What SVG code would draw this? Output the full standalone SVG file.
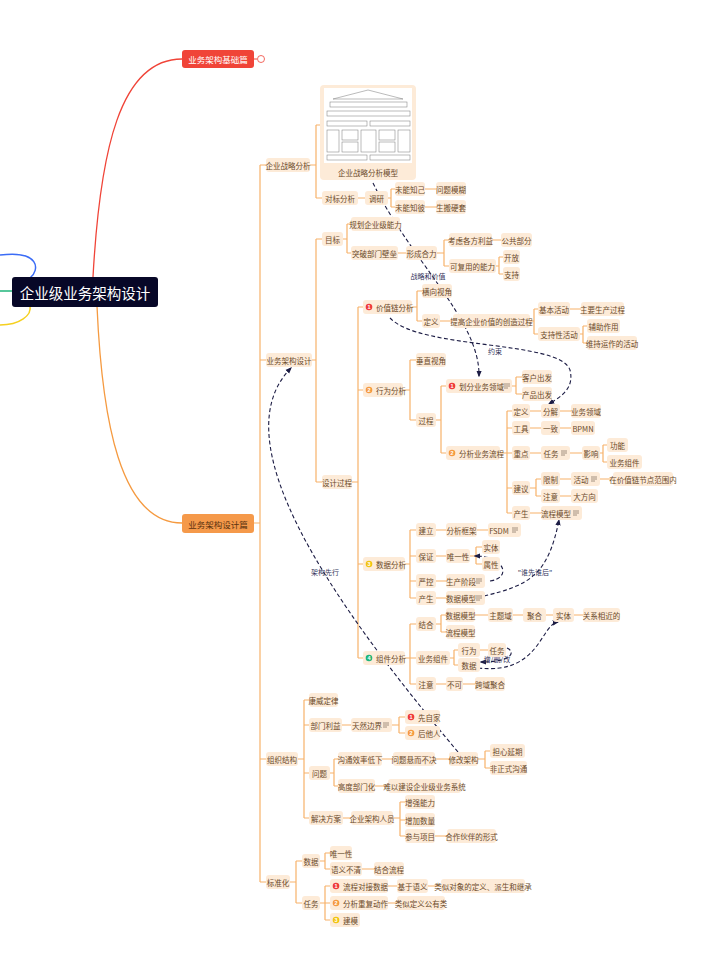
<svg xmlns="http://www.w3.org/2000/svg" width="720" height="971" viewBox="0 0 720 971">
<style>
.n rect{fill:#fdebd8;rx:3}
.n text{font-family:"Noto Sans CJK SC","Liberation Sans",sans-serif;font-size:7.5px;fill:#6b4a2a;text-anchor:middle;dominant-baseline:central}
.n text.s{text-anchor:start}
.n text.num{font-family:"Liberation Sans",sans-serif;font-size:5.5px;fill:#fff;text-anchor:middle;font-weight:bold}
.c{fill:none;stroke:#f7b26a;stroke-width:1.2}
.d{fill:none;stroke:#1c1c44;stroke-width:1.1;stroke-dasharray:4 2.5}
.lb{font-family:"Noto Sans CJK SC","Liberation Sans",sans-serif;font-size:7px;fill:#33335a;text-anchor:middle;dominant-baseline:central}
.eq{stroke:#8a7a6a;stroke-width:0.8}
</style>
<defs>
<marker id="ar" viewBox="0 0 10 10" refX="8" refY="5" markerWidth="6" markerHeight="6" orient="auto"><path d="M0,1 L10,5 L0,9 z" fill="#1c1c44"/></marker>
<g id="eqi"><line class="eq" x1="0" y1="-2" x2="6" y2="-2"/><line class="eq" x1="0" y1="0" x2="6" y2="0"/><line class="eq" x1="0" y1="2" x2="4" y2="2"/></g>
</defs>
<rect width="720" height="971" fill="#fff"/>
<g id="connectors">
<path d="M0,255 C40,250 40,270 30,278" fill="none" stroke="#3b6cf6" stroke-width="1.5"/>
<path d="M0,291 H12" stroke="#1fb57a" stroke-width="1.5"/>
<path d="M0,325 C20,325 32,315 30,306" fill="none" stroke="#f5d020" stroke-width="1.5"/>
<path d="M93,277 C100,150 120,59 182,59" fill="none" stroke="#f04438" stroke-width="1.3"/>
<path d="M254,59 H257" stroke="#f04438"/>
<path d="M97,306 C102,420 120,523 182,523" fill="none" stroke="#f59a40" stroke-width="1.3"/>
<path class="c" d="M254,523 H260 M260,165 V882 M260,165 H266 M260,360 H266 M260,759 H266 M260,882 H266"/>
<path class="c" d="M310,165 H316 M316,125 V198 M316,125 H320 M316,198 H322 M358,198 H365 M388,198 H391 M391,189 V207 M391,189 H395 M391,207 H395 M425,189 H436 M425,207 H436"/>
<path class="c" d="M312,360 H316 M316,239 V482 M316,239 H322 M316,482 H322 M343,239 H347 M347,224 V253 M347,224 H351 M347,253 H351 M398,253 H406 M437,253 H444 M444,240 V266 M444,240 H449 M444,266 H449 M492,240 H501 M496,266 H499 M499,257 V274 M499,257 H503 M499,274 H503"/>
<path class="c" d="M352,482 H358 M358,307 V658 M358,307 H363 M358,390 H363 M358,564 H363 M358,658 H363"/>
<path class="c" d="M412,307 H417 M417,291 V321 M417,291 H422 M417,321 H422 M440,321 H453 M530,321 H534 M534,309 V334 M534,309 H538 M534,334 H538 M570,309 H581 M580,334 H583 M583,326 V343 M583,326 H587 M583,343 H587"/>
<path class="c" d="M402,390 H410 M410,360 V420 M410,360 H416 M410,420 H416 M436,420 H441 M441,386 V453 M441,386 H446 M441,453 H446 M512,386 H516 M516,377 V394 M516,377 H522 M516,394 H522"/>
<path class="c" d="M500,453 H507 M507,411 V513 M507,411 H512 M507,428 H512 M507,453 H512 M507,488 H512 M507,513 H512 M530,411 H541 M560,411 H571 M530,428 H541 M560,428 H571 M530,453 H541 M570,453 H582 M600,453 H603 M603,445 V462 M603,445 H607 M603,462 H607 M530,488 H536 M536,479 V496 M536,479 H541 M536,496 H541 M560,479 H571 M600,479 H613 M560,496 H571 M530,513 H541"/>
<path class="c" d="M405,564 H410 M410,530 V598 M410,530 H416 M410,556 H416 M410,581 H416 M410,598 H416 M436,530 H446 M477,530 H488 M436,556 H446 M470,556 H476 M476,547 V564 M476,547 H482 M476,564 H482 M436,581 H446 M436,598 H446"/>
<path class="c" d="M405,658 H410 M410,624 V684 M410,624 H416 M410,658 H416 M410,684 H416 M436,624 H441 M441,615 V632 M441,615 H446 M441,632 H446 M475,615 H488 M513,615 H523 M546,615 H553 M574,615 H583 M450,658 H454 M454,650 V665 M454,650 H458 M454,665 H458 M480,650 H488 M436,684 H446 M463,684 H475"/>
<path class="c" d="M298,759 H304 M304,700 V818 M304,700 H309 M304,725 H309 M304,773 H309 M304,818 H309 M342,725 H351 M392,725 H399 M399,717 V733 M399,717 H405 M399,733 H405 M330,773 H334 M334,759 V786 M334,759 H338 M334,786 H338 M382,759 H393 M435,759 H449 M478,759 H485 M485,751 V768 M485,751 H490 M485,768 H490 M375,786 H388 M343,818 H351 M393,818 H400 M400,802 V836 M400,802 H405 M400,820 H405 M400,836 H405 M435,836 H447"/>
<path class="c" d="M290,882 H296 M296,861 V903 M296,861 H302 M296,903 H302 M320,861 H325 M325,853 V869 M325,853 H330 M325,869 H330 M362,869 H374 M320,903 H325 M325,886 V920 M325,886 H330 M325,903 H330 M325,920 H330 M388,886 H397 M428,886 H441 M388,903 H397"/>
<path class="d" d="M373,183 C410,260 480,320 479,376" marker-end="url(#ar)"/>
<path class="d" d="M390,318 C420,350 560,340 570,370 C575,390 558,398 549,404" marker-end="url(#ar)"/>
<path class="d" d="M490,581 C512,578 505,556 475,556" marker-end="url(#ar)"/>
<path class="d" d="M484,596 C530,585 548,575 559,520" marker-end="url(#ar)"/>
<path class="d" d="M507,648 C516,652 512,662 481,662" marker-end="url(#ar)"/>
<path class="d" d="M478,668 C540,675 540,625 558,622" marker-end="url(#ar)"/>
<path class="d" d="M458,752 C330,600 220,440 291,368" marker-end="url(#ar)"/>
<text class="lb" x="428" y="276">战略和价值</text>
<text class="lb" x="495" y="351">约束</text>
<text class="lb" x="535" y="572">"谁先谁后"</text>
<text class="lb" x="497" y="659">增/删/改</text>
<text class="lb" x="325" y="572">架构先行</text>
</g>
<g id="root"><rect x="12" y="277" width="146" height="30" rx="3" fill="#070727"/><text x="85" y="292" font-family="Noto Sans CJK SC,sans-serif" font-size="14.5" fill="#fff" text-anchor="middle" dominant-baseline="central">企业级业务架构设计</text></g>
<g id="jichu"><rect x="182" y="50" width="72" height="18" rx="3" fill="#f04438"/><text x="218" y="59" font-family="Noto Sans CJK SC,sans-serif" font-size="8.5" fill="#fff" text-anchor="middle" dominant-baseline="central">业务架构基础篇</text><circle cx="261" cy="59" r="3.5" fill="none" stroke="#f04438" stroke-width="0.8"/></g>
<g id="sheji"><rect x="182" y="514" width="72" height="19" rx="3" fill="#f5994a"/><text x="218" y="523.5" font-family="Noto Sans CJK SC,sans-serif" font-size="8.5" fill="#5a3210" text-anchor="middle" dominant-baseline="central">业务架构设计篇</text></g>
<g id="model"><rect x="320" y="85" width="96" height="95" rx="4" fill="#fdebd8"/><rect x="324" y="88" width="88" height="75" fill="#fff"/>
<g fill="none" stroke="#777" stroke-width="0.5"><path d="M333,99 L368,90 L403,99 Z"/><rect x="330" y="102" width="77" height="5"/><rect x="327" y="111" width="83" height="5"/><rect x="327" y="121" width="40" height="5"/><rect x="370" y="121" width="40" height="5"/><rect x="327" y="130" width="12" height="22"/><rect x="342" y="130" width="16" height="10"/><rect x="342" y="142" width="16" height="10"/><rect x="361" y="130" width="15" height="22"/><rect x="379" y="130" width="16" height="10"/><rect x="379" y="142" width="16" height="10"/><rect x="398" y="130" width="12" height="22"/><rect x="327" y="155" width="40" height="5"/><rect x="370" y="155" width="40" height="5"/></g>
<text x="368" y="172" font-family="Noto Sans CJK SC,sans-serif" font-size="7.5" fill="#6b4a2a" text-anchor="middle" dominant-baseline="central">企业战略分析模型</text></g>
<g class="n">
<g id="n1"><rect x="266" y="158" width="44" height="14"/><text x="288" y="165">企业战略分析</text></g>
<g id="n2"><rect x="322" y="191" width="36" height="14"/><text x="340" y="198">对标分析</text></g>
<g id="n3"><rect x="365" y="191" width="23" height="14"/><text x="376.5" y="198">调研</text></g>
<g id="n4"><rect x="395" y="182" width="30" height="14"/><text x="410" y="189">未能知己</text></g>
<g id="n5"><rect x="436" y="182" width="30" height="14"/><text x="451" y="189">问题模糊</text></g>
<g id="n6"><rect x="395" y="200" width="30" height="14"/><text x="410" y="207">未能知彼</text></g>
<g id="n7"><rect x="436" y="200" width="30" height="14"/><text x="451" y="207">生搬硬套</text></g>
<g id="n8"><rect x="266" y="353" width="46" height="14"/><text x="289" y="360">业务架构设计</text></g>
<g id="n9"><rect x="322" y="232" width="21" height="14"/><text x="332.5" y="239">目标</text></g>
<g id="n10"><rect x="351" y="217" width="49" height="14"/><text x="375.5" y="224">规划企业级能力</text></g>
<g id="n11"><rect x="351" y="246" width="47" height="14"/><text x="374.5" y="253">突破部门壁垒</text></g>
<g id="n12"><rect x="406" y="246" width="31" height="14"/><text x="421.5" y="253">形成合力</text></g>
<g id="n13"><rect x="449" y="233" width="43" height="14"/><text x="470.5" y="240">考虑各方利益</text></g>
<g id="n14"><rect x="501" y="233" width="31" height="14"/><text x="516.5" y="240">公共部分</text></g>
<g id="n15"><rect x="449" y="259" width="47" height="14"/><text x="472.5" y="266">可复用的能力</text></g>
<g id="n16"><rect x="503" y="250" width="17" height="14"/><text x="511.5" y="257">开放</text></g>
<g id="n17"><rect x="503" y="267" width="17" height="14"/><text x="511.5" y="274">支持</text></g>
<g id="n18"><rect x="322" y="475" width="30" height="14"/><text x="337" y="482">设计过程</text></g>
<g id="n19"><rect x="363" y="300" width="49" height="14"/><circle cx="369" cy="307" r="3.3" fill="#ef3b3b"/><text class="num" x="369" y="307">1</text><text class="s" x="376" y="307">价值链分析</text></g>
<g id="n20"><rect x="422" y="284" width="30" height="14"/><text x="437" y="291">横向视角</text></g>
<g id="n21"><rect x="422" y="314" width="18" height="14"/><text x="431" y="321">定义</text></g>
<g id="n22"><rect x="453" y="314" width="77" height="14"/><text x="491.5" y="321">提高企业价值的创造过程</text></g>
<g id="n23"><rect x="538" y="302" width="32" height="14"/><text x="554" y="309">基本活动</text></g>
<g id="n24"><rect x="581" y="302" width="43" height="14"/><text x="602.5" y="309">主要生产过程</text></g>
<g id="n25"><rect x="538" y="327" width="42" height="14"/><text x="559" y="334">支持性活动</text></g>
<g id="n26"><rect x="587" y="319" width="33" height="14"/><text x="603.5" y="326">辅助作用</text></g>
<g id="n27"><rect x="587" y="336" width="50" height="14"/><text x="612" y="343">维持运作的活动</text></g>
<g id="n28"><rect x="363" y="383" width="40" height="14"/><circle cx="369" cy="390" r="3.3" fill="#f59a40"/><text class="num" x="369" y="390">2</text><text class="s" x="376" y="390">行为分析</text></g>
<g id="n29"><rect x="416" y="353" width="30" height="14"/><text x="431" y="360">垂直视角</text></g>
<g id="n30"><rect x="416" y="413" width="20" height="14"/><text x="426" y="420">过程</text></g>
<g id="n31"><rect x="446" y="379" width="66" height="14"/><circle cx="452" cy="386" r="3.3" fill="#ef3b3b"/><text class="num" x="452" y="386">1</text><text class="s" x="459" y="386">划分业务领域</text><use href="#eqi" x="504" y="386"/></g>
<g id="n32"><rect x="522" y="370" width="30" height="14"/><text x="537" y="377">客户出发</text></g>
<g id="n33"><rect x="522" y="387" width="30" height="14"/><text x="537" y="394">产品出发</text></g>
<g id="n34"><rect x="446" y="446" width="54" height="14"/><circle cx="452" cy="453" r="3.3" fill="#f59a40"/><text class="num" x="452" y="453">2</text><text class="s" x="459" y="453">分析业务流程</text></g>
<g id="n35"><rect x="512" y="404" width="18" height="14"/><text x="521" y="411">定义</text></g>
<g id="n36"><rect x="541" y="404" width="19" height="14"/><text x="550.5" y="411">分解</text></g>
<g id="n37"><rect x="571" y="404" width="30" height="14"/><text x="586" y="411">业务领域</text></g>
<g id="n38"><rect x="512" y="421" width="18" height="14"/><text x="521" y="428">工具</text></g>
<g id="n39"><rect x="541" y="421" width="19" height="14"/><text x="550.5" y="428">一致</text></g>
<g id="n40"><rect x="571" y="421" width="24" height="14"/><text x="583" y="428">BPMN</text></g>
<g id="n41"><rect x="512" y="446" width="18" height="14"/><text x="521" y="453">重点</text></g>
<g id="n42"><rect x="541" y="446" width="29" height="14"/><text x="551" y="453">任务</text><use href="#eqi" x="561" y="453"/></g>
<g id="n43"><rect x="582" y="446" width="18" height="14"/><text x="591" y="453">影响</text></g>
<g id="n44"><rect x="607" y="438" width="21" height="14"/><text x="617.5" y="445">功能</text></g>
<g id="n45"><rect x="607" y="455" width="35" height="14"/><text x="624.5" y="462">业务组件</text></g>
<g id="n46"><rect x="512" y="481" width="18" height="14"/><text x="521" y="488">建议</text></g>
<g id="n47"><rect x="541" y="472" width="19" height="14"/><text x="550.5" y="479">限制</text></g>
<g id="n48"><rect x="571" y="472" width="29" height="14"/><text x="581" y="479">活动</text><use href="#eqi" x="591" y="479"/></g>
<g id="n49"><rect x="613" y="472" width="60" height="14"/><text x="643" y="479">在价值链节点范围内</text></g>
<g id="n50"><rect x="541" y="489" width="19" height="14"/><text x="550.5" y="496">注意</text></g>
<g id="n51"><rect x="571" y="489" width="27" height="14"/><text x="584.5" y="496">大方向</text></g>
<g id="n52"><rect x="512" y="506" width="18" height="14"/><text x="521" y="513">产生</text></g>
<g id="n53"><rect x="541" y="506" width="41" height="14"/><text x="556" y="513">流程模型</text><use href="#eqi" x="573" y="513"/></g>
<g id="n54"><rect x="363" y="557" width="42" height="14"/><circle cx="369" cy="564" r="3.3" fill="#f2c40f"/><text class="num" x="369" y="564">3</text><text class="s" x="376" y="564">数据分析</text></g>
<g id="n55"><rect x="416" y="523" width="20" height="14"/><text x="426" y="530">建立</text></g>
<g id="n56"><rect x="446" y="523" width="31" height="14"/><text x="461.5" y="530">分析框架</text></g>
<g id="n57"><rect x="488" y="523" width="33" height="14"/><text x="499" y="530">FSDM</text><use href="#eqi" x="512" y="530"/></g>
<g id="n58"><rect x="416" y="549" width="20" height="14"/><text x="426" y="556">保证</text></g>
<g id="n59"><rect x="446" y="549" width="24" height="14"/><text x="458" y="556">唯一性</text></g>
<g id="n60"><rect x="482" y="540" width="18" height="14"/><text x="491" y="547">实体</text></g>
<g id="n61"><rect x="482" y="557" width="18" height="14"/><text x="491" y="564">属性</text></g>
<g id="n62"><rect x="416" y="574" width="20" height="14"/><text x="426" y="581">严控</text></g>
<g id="n63"><rect x="446" y="574" width="39" height="14"/><text x="461" y="581">生产阶段</text><use href="#eqi" x="476" y="581"/></g>
<g id="n64"><rect x="416" y="591" width="20" height="14"/><text x="426" y="598">产生</text></g>
<g id="n65"><rect x="446" y="591" width="39" height="14"/><text x="461" y="598">数据模型</text><use href="#eqi" x="476" y="598"/></g>
<g id="n66"><rect x="363" y="651" width="42" height="14"/><circle cx="369" cy="658" r="3.3" fill="#1fb57a"/><text class="num" x="369" y="658">4</text><text class="s" x="376" y="658">组件分析</text></g>
<g id="n67"><rect x="416" y="617" width="20" height="14"/><text x="426" y="624">结合</text></g>
<g id="n68"><rect x="446" y="608" width="29" height="14"/><text x="460.5" y="615">数据模型</text></g>
<g id="n69"><rect x="488" y="608" width="25" height="14"/><text x="500.5" y="615">主题域</text></g>
<g id="n70"><rect x="523" y="608" width="23" height="14"/><text x="534.5" y="615">聚合</text></g>
<g id="n71"><rect x="553" y="608" width="21" height="14"/><text x="563.5" y="615">实体</text></g>
<g id="n72"><rect x="583" y="608" width="37" height="14"/><text x="601.5" y="615">关系相近的</text></g>
<g id="n73"><rect x="446" y="625" width="29" height="14"/><text x="460.5" y="632">流程模型</text></g>
<g id="n74"><rect x="416" y="651" width="34" height="14"/><text x="433" y="658">业务组件</text></g>
<g id="n75"><rect x="458" y="643" width="22" height="14"/><text x="469" y="650">行为</text></g>
<g id="n76"><rect x="488" y="643" width="18" height="14"/><text x="497" y="650">任务</text></g>
<g id="n77"><rect x="458" y="658" width="22" height="14"/><text x="469" y="665">数据</text></g>
<g id="n78"><rect x="416" y="677" width="20" height="14"/><text x="426" y="684">注意</text></g>
<g id="n79"><rect x="446" y="677" width="17" height="14"/><text x="454.5" y="684">不可</text></g>
<g id="n80"><rect x="475" y="677" width="30" height="14"/><text x="490" y="684">跨域聚合</text></g>
<g id="n81"><rect x="266" y="752" width="32" height="14"/><text x="282" y="759">组织结构</text></g>
<g id="n82"><rect x="309" y="693" width="29" height="14"/><text x="323.5" y="700">康威定律</text></g>
<g id="n83"><rect x="309" y="718" width="33" height="14"/><text x="325.5" y="725">部门利益</text></g>
<g id="n84"><rect x="351" y="718" width="41" height="14"/><text x="367" y="725">天然边界</text><use href="#eqi" x="383" y="725"/></g>
<g id="n85"><rect x="405" y="710" width="35" height="14"/><circle cx="411" cy="717" r="3.3" fill="#ef3b3b"/><text class="num" x="411" y="717">1</text><text class="s" x="418" y="717">先自家</text></g>
<g id="n86"><rect x="405" y="726" width="35" height="14"/><circle cx="411" cy="733" r="3.3" fill="#f59a40"/><text class="num" x="411" y="733">2</text><text class="s" x="418" y="733">后他人</text></g>
<g id="n87"><rect x="309" y="766" width="21" height="14"/><text x="319.5" y="773">问题</text></g>
<g id="n88"><rect x="338" y="752" width="44" height="14"/><text x="360" y="759">沟通效率低下</text></g>
<g id="n89"><rect x="393" y="752" width="42" height="14"/><text x="414" y="759">问题悬而不决</text></g>
<g id="n90"><rect x="449" y="752" width="29" height="14"/><text x="463.5" y="759">修改架构</text></g>
<g id="n91"><rect x="490" y="744" width="35" height="14"/><text x="507.5" y="751">担心延期</text></g>
<g id="n92"><rect x="490" y="761" width="37" height="14"/><text x="508.5" y="768">非正式沟通</text></g>
<g id="n93"><rect x="338" y="779" width="37" height="14"/><text x="356.5" y="786">高度部门化</text></g>
<g id="n94"><rect x="388" y="779" width="73" height="14"/><text x="424.5" y="786">难以建设企业级业务系统</text></g>
<g id="n95"><rect x="309" y="811" width="34" height="14"/><text x="326" y="818">解决方案</text></g>
<g id="n96"><rect x="351" y="811" width="42" height="14"/><text x="372" y="818">企业架构人员</text></g>
<g id="n97"><rect x="405" y="795" width="30" height="14"/><text x="420" y="802">增强能力</text></g>
<g id="n98"><rect x="405" y="813" width="30" height="14"/><text x="420" y="820">增加数量</text></g>
<g id="n99"><rect x="405" y="829" width="30" height="14"/><text x="420" y="836">参与项目</text></g>
<g id="n100"><rect x="447" y="829" width="49" height="14"/><text x="471.5" y="836">合作伙伴的形式</text></g>
<g id="n101"><rect x="266" y="875" width="24" height="14"/><text x="278" y="882">标准化</text></g>
<g id="n102"><rect x="302" y="854" width="18" height="14"/><text x="311" y="861">数据</text></g>
<g id="n103"><rect x="330" y="846" width="22" height="14"/><text x="341" y="853">唯一性</text></g>
<g id="n104"><rect x="330" y="862" width="32" height="14"/><text x="346" y="869">语义不清</text></g>
<g id="n105"><rect x="374" y="862" width="30" height="14"/><text x="389" y="869">结合流程</text></g>
<g id="n106"><rect x="302" y="896" width="18" height="14"/><text x="311" y="903">任务</text></g>
<g id="n107"><rect x="330" y="879" width="58" height="14"/><circle cx="336" cy="886" r="3.3" fill="#ef3b3b"/><text class="num" x="336" y="886">1</text><text class="s" x="343" y="886">流程对接数据</text></g>
<g id="n108"><rect x="397" y="879" width="31" height="14"/><text x="412.5" y="886">基于语义</text></g>
<g id="n109"><rect x="441" y="879" width="84" height="14"/><text x="483" y="886">类似对象的定义、派生和继承</text></g>
<g id="n110"><rect x="330" y="896" width="58" height="14"/><circle cx="336" cy="903" r="3.3" fill="#f59a40"/><text class="num" x="336" y="903">2</text><text class="s" x="343" y="903">分析重复动作</text></g>
<g id="n111"><rect x="397" y="896" width="48" height="14"/><text x="421" y="903">类似定义公有类</text></g>
<g id="n112"><rect x="330" y="913" width="30" height="14"/><circle cx="336" cy="920" r="3.3" fill="#f2c40f"/><text class="num" x="336" y="920">3</text><text class="s" x="343" y="920">建模</text></g>
</g>
</svg>
